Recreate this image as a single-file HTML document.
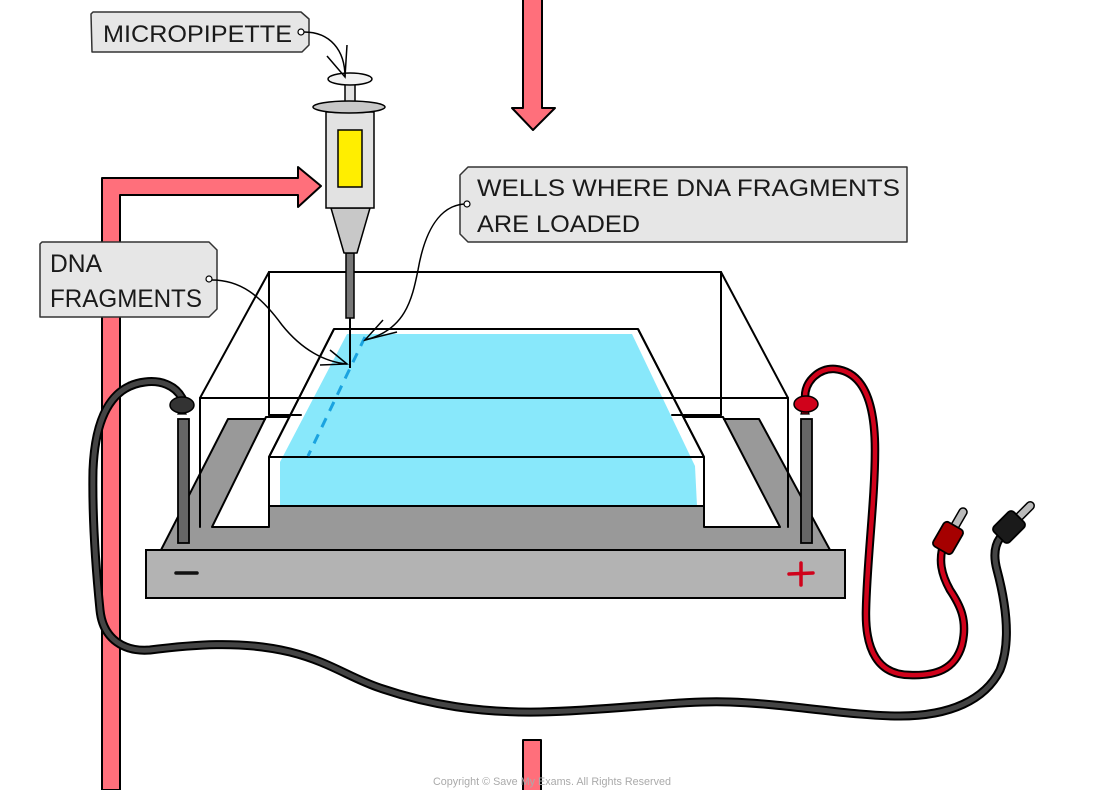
<!DOCTYPE html>
<html>
<head>
<meta charset="utf-8">
<style>
html,body{margin:0;padding:0;background:#fff;}
svg{display:block;}
text{font-family:"Liberation Sans",sans-serif;fill:#1a1a1a;}
</style>
</head>
<body>
<svg width="1100" height="790" viewBox="0 0 1100 790" xmlns="http://www.w3.org/2000/svg">
  <!-- Pink arrows -->
  <polygon points="102,790 102,178 298,178 298,167 321,186 298,207 298,195 120,195 120,790" fill="#ff6f7b" stroke="#000" stroke-width="2" stroke-linejoin="round"/>
  <polygon points="523,-2 542,-2 542,108 555,108 533,130 512,108 523,108" fill="#ff6f7b" stroke="#000" stroke-width="2" stroke-linejoin="round"/>
  <polygon points="523,792 523,740 541,740 541,792" fill="#ff6f7b" stroke="#000" stroke-width="2" stroke-linejoin="round"/>

  <!-- Base -->
  <polygon points="228,419 759,419 830,550 161,550" fill="#999" stroke="#000" stroke-width="2" stroke-linejoin="round"/>
  <rect x="146" y="550" width="699" height="48" fill="#b3b3b3" stroke="#000" stroke-width="2"/>
  <line x1="176" y1="573" x2="197" y2="573" stroke="#111" stroke-width="3.5" stroke-linecap="round"/>
  <g stroke="#d0021b" stroke-width="3.5" stroke-linecap="round">
    <line x1="789" y1="574" x2="813" y2="573"/>
    <line x1="801" y1="563" x2="801" y2="585"/>
  </g>

  <!-- Lid floor (white) -->
  <polygon points="266,417 723,417 780,527 704,527 704,506 269,506 269,527 212,527" fill="#fff" stroke="#000" stroke-width="2" stroke-linejoin="round"/>
  <line x1="228" y1="419" x2="266" y2="419" stroke="#000" stroke-width="2"/>
  <line x1="723" y1="419" x2="759" y2="419" stroke="#000" stroke-width="2"/>

  <!-- Gel tray -->
  <polygon points="334,329 638,329 704,457 704,506 269,506 269,457" fill="#fff" stroke="#000" stroke-width="2" stroke-linejoin="round"/>
  <polygon points="347,334 632,334 695,466 697,506 280,506 280,462" fill="#88e8fb"/>
  <line x1="269" y1="457" x2="704" y2="457" stroke="#000" stroke-width="2"/>
  <line x1="269" y1="506" x2="704" y2="506" stroke="#000" stroke-width="2"/>
  <line x1="334" y1="329" x2="269" y2="457" stroke="#000" stroke-width="2"/>
  <line x1="638" y1="329" x2="704" y2="457" stroke="#000" stroke-width="2"/>
  <!-- wells -->
  <line x1="365" y1="337" x2="308" y2="456" stroke="#1aa3e0" stroke-width="3" stroke-dasharray="10,8"/>

  <!-- Lid outline -->
  <g stroke="#000" stroke-width="2" fill="none" stroke-linecap="round">
    <line x1="269" y1="272" x2="721" y2="272"/>
    <line x1="269" y1="272" x2="200" y2="398"/>
    <line x1="721" y1="272" x2="788" y2="398"/>
    <line x1="200" y1="398" x2="788" y2="398"/>
    <line x1="269" y1="272" x2="269" y2="415"/>
    <line x1="721" y1="272" x2="721" y2="415"/>
    <line x1="200" y1="398" x2="200" y2="527"/>
    <line x1="788" y1="398" x2="788" y2="527"/>
    <line x1="269" y1="415" x2="301" y2="415"/>
    <line x1="672" y1="415" x2="721" y2="415"/>
  </g>

  <!-- Electrode posts -->
  <rect x="178" y="419" width="11" height="124" fill="#666" stroke="#000" stroke-width="1.8"/>
  <rect x="801" y="419" width="11" height="124" fill="#666" stroke="#000" stroke-width="1.8"/>

  <!-- Cables -->
  <path d="M182,398 C175,385 160,380 145,382 C110,386 95,420 93,470 C92,520 97,580 100,610 C103,640 125,652 150,650 C190,645 240,640 290,652 C330,662 350,678 380,688 C430,705 480,713 540,712 C620,710 680,700 730,702 C790,704 850,716 900,716 C950,716 985,700 1000,670 C1012,640 1005,600 997,570 C993,555 995,545 1000,538" fill="none" stroke="#000" stroke-width="9" stroke-linecap="round"/>
  <path d="M182,398 C175,385 160,380 145,382 C110,386 95,420 93,470 C92,520 97,580 100,610 C103,640 125,652 150,650 C190,645 240,640 290,652 C330,662 350,678 380,688 C430,705 480,713 540,712 C620,710 680,700 730,702 C790,704 850,716 900,716 C950,716 985,700 1000,670 C1012,640 1005,600 997,570 C993,555 995,545 1000,538" fill="none" stroke="#444" stroke-width="5" stroke-linecap="round"/>

  <path d="M805,397 C805,380 820,368 835,369 C865,372 875,405 875,450 C875,500 867,560 866,610 C865,650 878,675 910,675 C935,676 955,670 962,645 C968,620 960,605 950,590 C940,572 940,560 942,550" fill="none" stroke="#000" stroke-width="8.5" stroke-linecap="round"/>
  <path d="M805,397 C805,380 820,368 835,369 C865,372 875,405 875,450 C875,500 867,560 866,610 C865,650 878,675 910,675 C935,676 955,670 962,645 C968,620 960,605 950,590 C940,572 940,560 942,550" fill="none" stroke="#d0021b" stroke-width="4.5" stroke-linecap="round"/>

  <!-- Knobs -->
  <path d="M178,414 L186,414 L184,410 L180,410 Z" fill="#333" stroke="#000" stroke-width="1.2"/>
  <ellipse cx="182" cy="405" rx="12" ry="8" fill="#333" stroke="#000" stroke-width="1.5"/>
  <path d="M801,414 L809,414 L808,410 L802,410 Z" fill="#d0021b" stroke="#000" stroke-width="1.2"/>
  <ellipse cx="806" cy="404" rx="12" ry="8" fill="#d0021b" stroke="#000" stroke-width="1.5"/>

  <!-- Plugs -->
  <g transform="translate(948,538) rotate(30)">
    <rect x="-4" y="-34" width="8" height="24" rx="4" fill="#bbb" stroke="#000" stroke-width="1.5"/>
    <rect x="-11" y="-14" width="22" height="28" rx="4" fill="#a50000" stroke="#000" stroke-width="1.8"/>
  </g>
  <g transform="translate(1009,527) rotate(45)">
    <rect x="-4" y="-34" width="8" height="24" rx="4" fill="#bbb" stroke="#000" stroke-width="1.5"/>
    <rect x="-11" y="-14" width="22" height="28" rx="4" fill="#1a1a1a" stroke="#000" stroke-width="1.8"/>
  </g>

  <!-- Micropipette -->
  <line x1="350" y1="318" x2="350" y2="368" stroke="#000" stroke-width="2"/>
  <rect x="346" y="253" width="8" height="65" fill="#777" stroke="#000" stroke-width="1.5"/>
  <polygon points="331,208 370,208 357,253 344,253" fill="#c8c8c8" stroke="#000" stroke-width="1.5" stroke-linejoin="round"/>
  <rect x="326" y="112" width="48" height="96" fill="#e2e2e2" stroke="#000" stroke-width="1.5"/>
  <rect x="338" y="130" width="24" height="57" fill="#ffee00" stroke="#000" stroke-width="1.5"/>
  <rect x="345" y="84" width="10" height="20" fill="#e2e2e2" stroke="#000" stroke-width="1.5"/>
  <ellipse cx="349" cy="107" rx="36" ry="6" fill="#c8c8c8" stroke="#000" stroke-width="1.5"/>
  <ellipse cx="350" cy="79" rx="22" ry="6" fill="#f2f2f2" stroke="#000" stroke-width="1.5"/>

  <!-- Labels -->
  <polygon points="93,12 301,12 309,19 309,45 302,52 92,52 91,14" fill="#e6e6e6" stroke="#333" stroke-width="1.5" stroke-linejoin="round"/>
  <text x="103" y="42" font-size="24" textLength="189" lengthAdjust="spacingAndGlyphs">MICROPIPETTE</text>
  <circle cx="301" cy="32" r="3" fill="#fff" stroke="#000" stroke-width="1.2"/>
  <path d="M304,32 C330,32 345,50 345,77" fill="none" stroke="#000" stroke-width="1.5"/>
  <path d="M327,56 L345,77 L347,45" fill="none" stroke="#000" stroke-width="1.5"/>

  <polygon points="468,167 907,167 907,242 468,242 460,234 460,175" fill="#e6e6e6" stroke="#333" stroke-width="1.5" stroke-linejoin="round"/>
  <text x="477" y="196" font-size="24" textLength="423" lengthAdjust="spacingAndGlyphs">WELLS  WHERE  DNA FRAGMENTS</text>
  <text x="477" y="232" font-size="24" textLength="163" lengthAdjust="spacingAndGlyphs">ARE  LOADED</text>
  <circle cx="467" cy="204" r="3" fill="#fff" stroke="#000" stroke-width="1.2"/>
  <path d="M464,204 C440,206 425,230 418,270 C412,300 405,330 365,340" fill="none" stroke="#000" stroke-width="1.5"/>
  <path d="M383,320 L365,340 L397,332" fill="none" stroke="#000" stroke-width="1.5"/>

  <polygon points="42,242 209,242 217,250 217,309 209,317 40,317 40,244" fill="#e6e6e6" stroke="#333" stroke-width="1.5" stroke-linejoin="round"/>
  <text x="50" y="272" font-size="25" textLength="52" lengthAdjust="spacingAndGlyphs">DNA</text>
  <text x="50" y="307" font-size="25" textLength="152" lengthAdjust="spacingAndGlyphs">FRAGMENTS</text>
  <circle cx="209" cy="279" r="3" fill="#fff" stroke="#000" stroke-width="1.2"/>
  <path d="M212,280 C240,280 260,295 282,325 C302,350 325,362 347,364" fill="none" stroke="#000" stroke-width="1.5"/>
  <path d="M330,350 L347,364 L320,365" fill="none" stroke="#000" stroke-width="1.5"/>

  <!-- Copyright -->
  <text x="433" y="785" font-size="11" fill="#aaa" style="fill:#aaa" textLength="238" lengthAdjust="spacingAndGlyphs">Copyright © Save My Exams. All Rights Reserved</text>
</svg>
</body>
</html>
